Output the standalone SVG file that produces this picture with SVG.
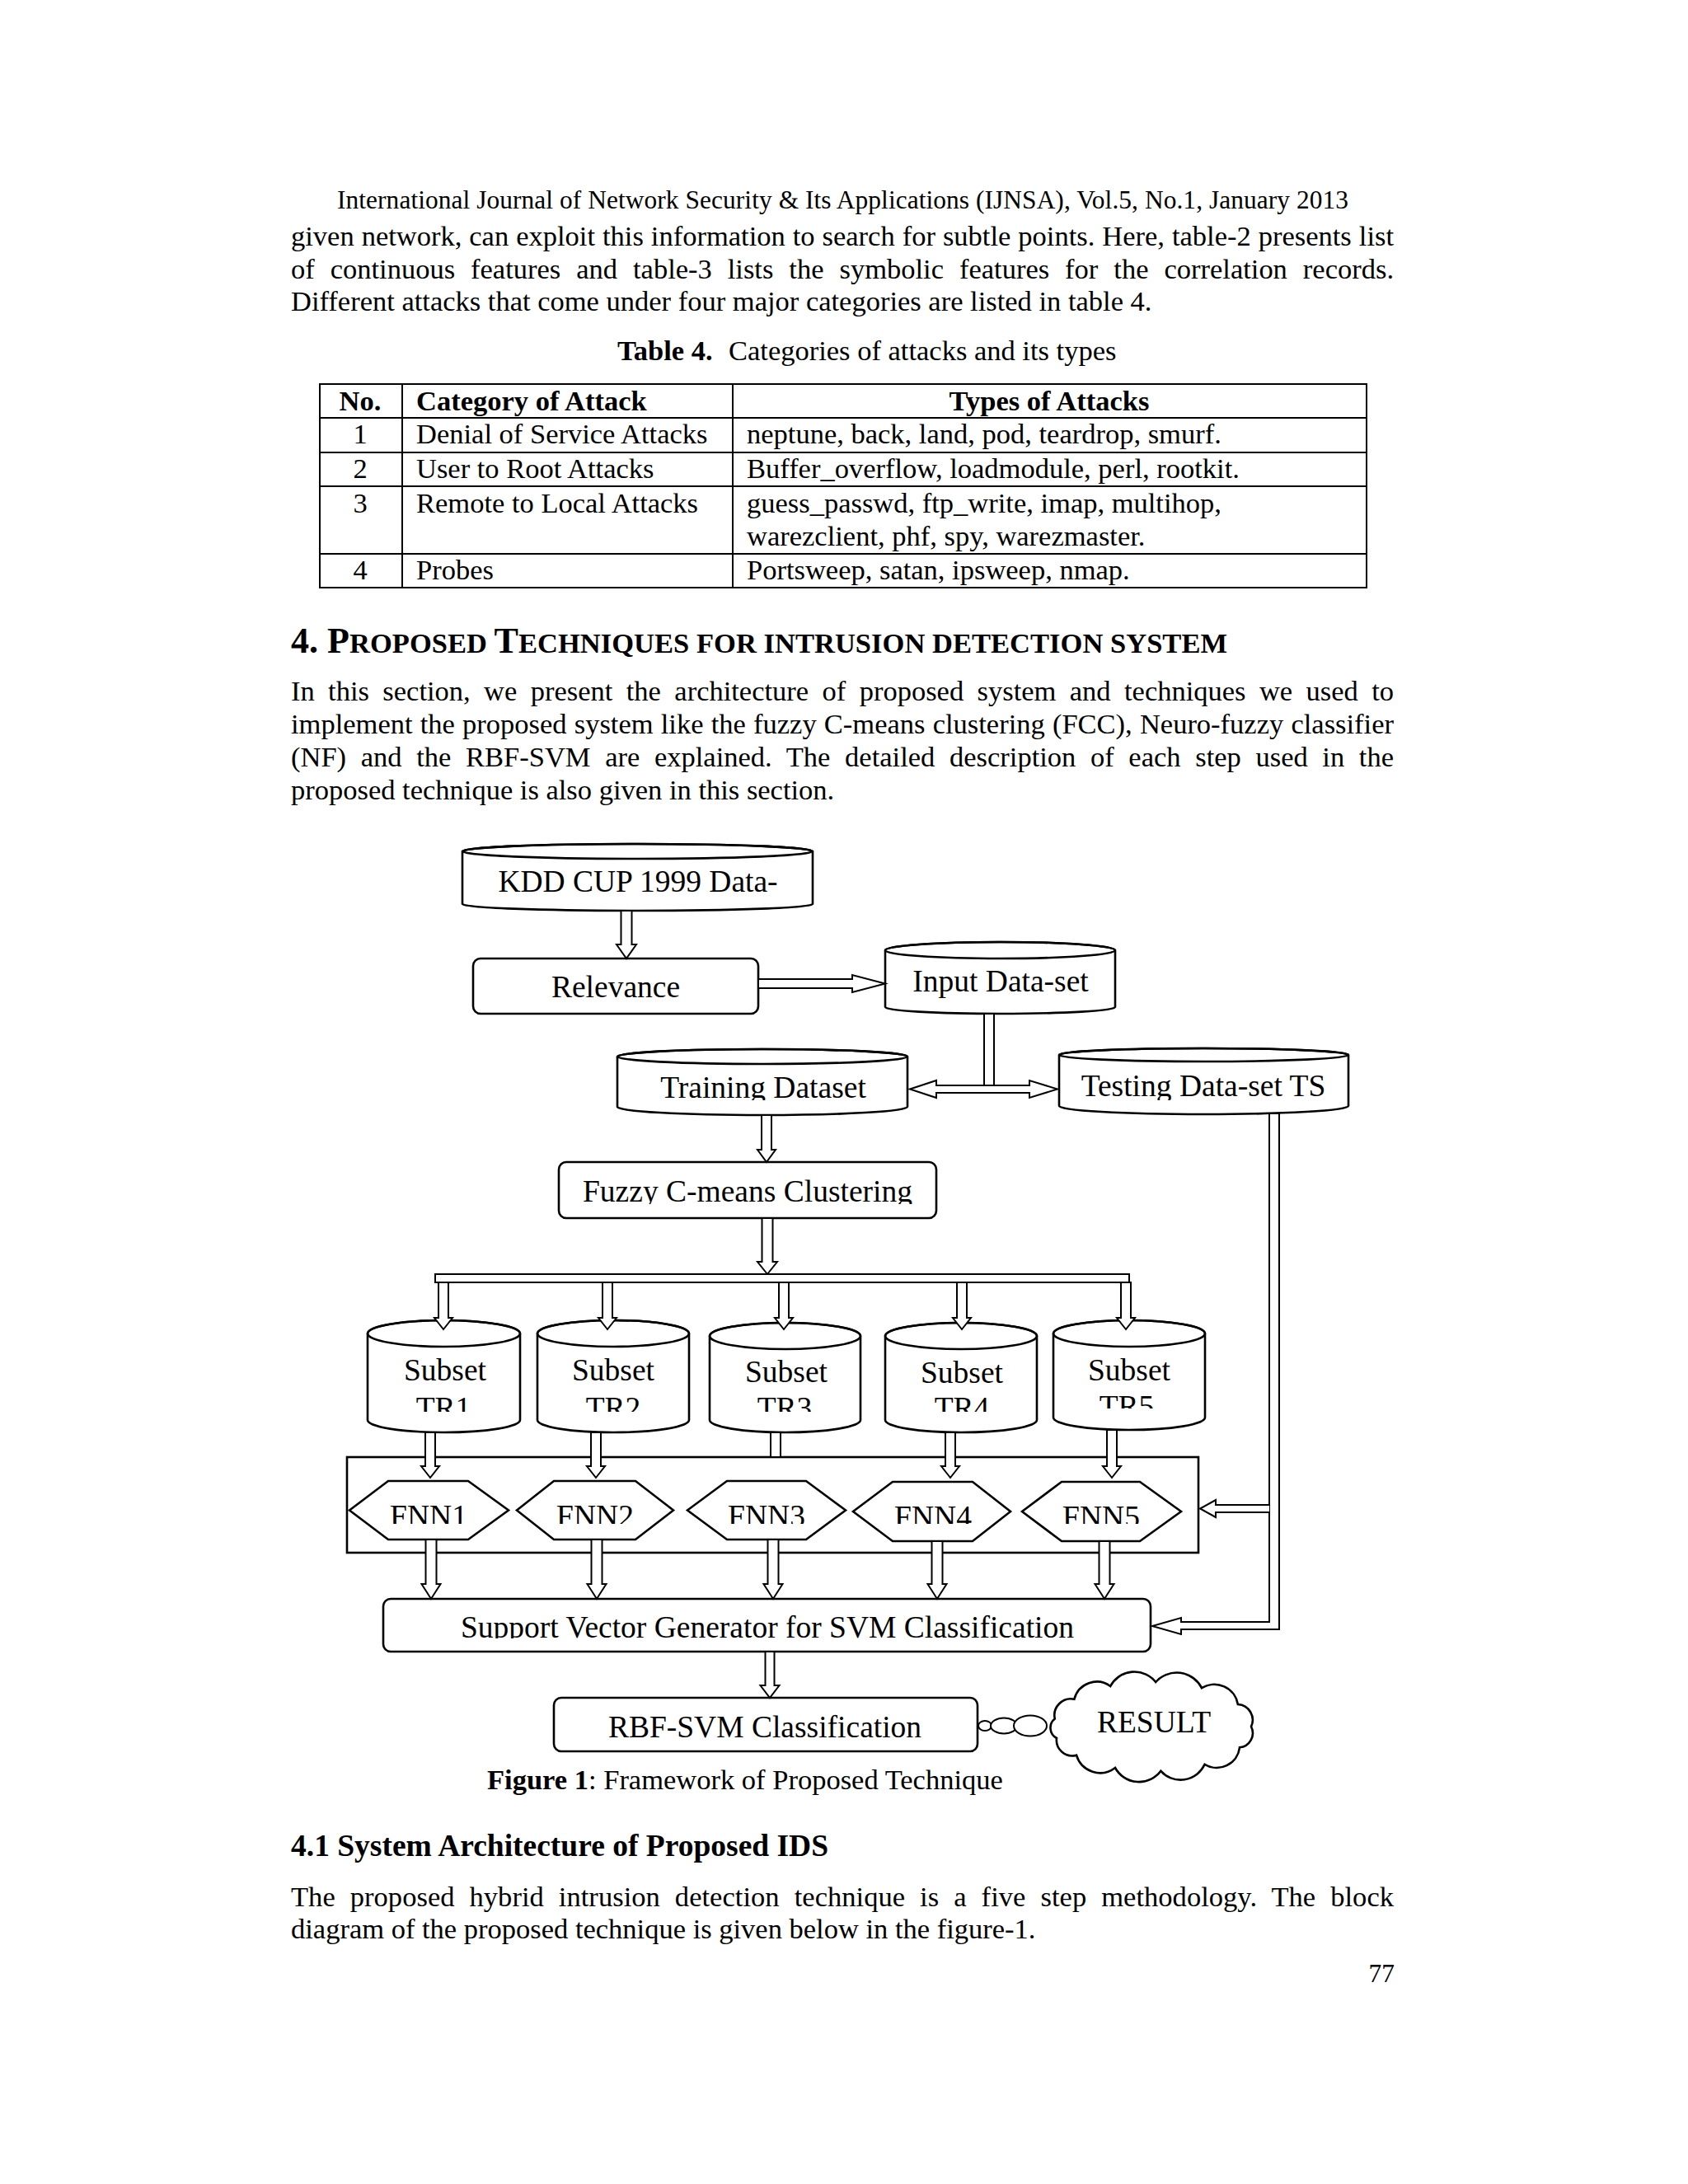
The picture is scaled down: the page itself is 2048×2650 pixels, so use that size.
<svg xmlns="http://www.w3.org/2000/svg" width="2048" height="2650" viewBox="0 0 2048 2650">
<style>
text{font-family:"Liberation Serif","Times New Roman",serif;fill:#000}
.t{font-size:34.5px}
.hd{font-size:31.4px}
.d{font-size:37.5px}
.bd{font-weight:bold}
.m{text-anchor:middle}
.tb{stroke:#000;stroke-width:2;fill:none}
.n{fill:#fff;stroke:#000;stroke-width:2.6}
.nl{fill:none;stroke:#000;stroke-width:2.6}
.a{fill:#fff;stroke:#000;stroke-width:2;stroke-linejoin:miter}
</style>
<defs>
<clipPath id="cTrain"><rect x="700" y="1280" width="1000" height="55"/></clipPath>
<clipPath id="cFcc"><rect x="680" y="1410" width="460" height="51"/></clipPath>
<clipPath id="cTR"><rect x="440" y="1680" width="1030" height="33"/></clipPath>
<clipPath id="cTR5"><rect x="1270" y="1680" width="200" height="29"/></clipPath>
<clipPath id="cFNN"><rect x="420" y="1800" width="1030" height="49"/></clipPath>
<clipPath id="cSVG"><rect x="470" y="1945" width="920" height="43"/></clipPath>
</defs>
<rect width="2048" height="2650" fill="#fff"/>

<!-- page text -->
<g id="page-text">
<text class="hd m" x="1022.5" y="253" textLength="1227" lengthAdjust="spacing">International Journal of Network Security &amp; Its Applications (IJNSA), Vol.5, No.1, January 2013</text>
<text class="t" x="353" y="298" word-spacing="0.36" textLength="1338" lengthAdjust="spacing">given network, can exploit this information to search for subtle points. Here, table-2 presents list</text>
<text class="t" x="353" y="338" word-spacing="10.35" textLength="1338" lengthAdjust="spacing">of continuous features and table-3 lists the symbolic features for the correlation records.</text>
<text class="t" x="353" y="377">Different attacks that come under four major categories are listed in table 4.</text>
<text class="t" x="749" y="437"><tspan class="bd">Table 4.</tspan><tspan x="884">Categories of attacks and its types</tspan></text>

<text class="bd" x="353" y="792" textLength="1136" lengthAdjust="spacing"><tspan font-size="44">4. P</tspan><tspan font-size="34.5">ROPOSED </tspan><tspan font-size="44">T</tspan><tspan font-size="34.5">ECHNIQUES FOR INTRUSION DETECTION SYSTEM</tspan></text>
<text class="t" x="353" y="850" word-spacing="7.76" textLength="1338" lengthAdjust="spacing">In this section, we present the architecture of proposed system and techniques we used to</text>
<text class="t" x="353" y="890" word-spacing="0.55" textLength="1338" lengthAdjust="spacing">implement the proposed system like the fuzzy C-means clustering (FCC), Neuro-fuzzy classifier</text>
<text class="t" x="353" y="930" word-spacing="9.0" textLength="1338" lengthAdjust="spacing">(NF) and the RBF-SVM are explained. The detailed description of each step used in the</text>
<text class="t" x="353" y="970">proposed technique is also given in this section.</text>

<text class="t" x="591" y="2171"><tspan class="bd">Figure 1</tspan>: Framework of Proposed Technique</text>
<text class="d bd" x="353" y="2252">4.1 System Architecture of Proposed IDS</text>
<text class="t" x="353" y="2313" word-spacing="9.37" textLength="1338" lengthAdjust="spacing">The proposed hybrid intrusion detection technique is a five step methodology. The block</text>
<text class="t" x="353" y="2352">diagram of the proposed technique is given below in the figure-1.</text>
<text class="hd" x="1692" y="2405" text-anchor="end">77</text>
</g>

<!-- table -->
<g id="table4">
<rect class="tb" x="388" y="466" width="1270" height="247"/>
<line class="tb" x1="388" y1="507" x2="1658" y2="507"/>
<line class="tb" x1="388" y1="549" x2="1658" y2="549"/>
<line class="tb" x1="388" y1="590" x2="1658" y2="590"/>
<line class="tb" x1="388" y1="672" x2="1658" y2="672"/>
<line class="tb" x1="488" y1="466" x2="488" y2="713"/>
<line class="tb" x1="889" y1="466" x2="889" y2="713"/>
<text class="t bd m" x="437" y="498">No.</text>
<text class="t bd" x="505" y="498">Category of Attack</text>
<text class="t bd m" x="1273" y="498">Types of Attacks</text>
<text class="t m" x="437" y="538">1</text>
<text class="t" x="505" y="538">Denial of Service Attacks</text>
<text class="t" x="906" y="538">neptune, back, land, pod, teardrop, smurf.</text>
<text class="t m" x="437" y="580">2</text>
<text class="t" x="505" y="580">User to Root Attacks</text>
<text class="t" x="906" y="580">Buffer_overflow, loadmodule, perl, rootkit.</text>
<text class="t m" x="437" y="622">3</text>
<text class="t" x="505" y="622">Remote to Local Attacks</text>
<text class="t" x="906" y="622">guess_passwd, ftp_write, imap, multihop,</text>
<text class="t" x="906" y="662">warezclient, phf, spy, warezmaster.</text>
<text class="t m" x="437" y="703">4</text>
<text class="t" x="505" y="703">Probes</text>
<text class="t" x="906" y="703">Portsweep, satan, ipsweep, nmap.</text>
</g>

<!-- diagram nodes -->
<g id="kdd">
<path class="n" d="M561,1033 A212.5,9 0 0 1 986,1033 V1097 A212.5,8 0 0 1 561,1097 Z"/>
<ellipse class="nl" cx="773.5" cy="1033" rx="212.5" ry="9"/>
<text class="d m" x="774" y="1082">KDD CUP 1999 Data-</text>
</g>
<g id="relevance">
<rect class="n" x="574" y="1163" width="346" height="67" rx="9"/>
<text class="d m" x="747" y="1210">Relevance</text>
</g>
<g id="input-dataset">
<path class="n" d="M1074,1153 A139.5,10 0 0 1 1353,1153 V1222 A139.5,8 0 0 1 1074,1222 Z"/>
<ellipse class="nl" cx="1213.5" cy="1153" rx="139.5" ry="10"/>
<text class="d m" x="1214" y="1203">Input Data-set</text>
</g>
<g id="training-dataset">
<path class="n" d="M749,1282 A176,9 0 0 1 1101,1282 V1343 A176,10 0 0 1 749,1343 Z"/>
<ellipse class="nl" cx="925" cy="1282" rx="176" ry="9"/>
<text class="d m" x="926" y="1332" clip-path="url(#cTrain)">Training Dataset</text>
</g>
<g id="testing-dataset">
<path class="n" d="M1285,1280 A175.5,8 0 0 1 1636,1280 V1342 A175.5,10 0 0 1 1285,1342 Z"/>
<ellipse class="nl" cx="1460.5" cy="1280" rx="175.5" ry="8"/>
<text class="d m" x="1460" y="1330" clip-path="url(#cTrain)">Testing Data-set TS</text>
</g>
<g id="fcc">
<rect class="n" x="678" y="1410" width="458" height="68" rx="9"/>
<text class="d m" x="907" y="1458" clip-path="url(#cFcc)">Fuzzy C-means Clustering</text>
</g>
<g id="subset1">
<path class="n" d="M446,1618 A92.5,16 0 0 1 631,1618 V1723 A92.5,15 0 0 1 446,1723 Z"/>
<ellipse class="nl" cx="538.5" cy="1618" rx="92.5" ry="16"/>
<text class="d m" x="540" y="1675">Subset</text>
<text class="d m" x="538" y="1721" clip-path="url(#cTR)">TR1</text>
</g>
<g id="subset2">
<path class="n" d="M652,1618 A92,16 0 0 1 836,1618 V1723 A92,15 0 0 1 652,1723 Z"/>
<ellipse class="nl" cx="744" cy="1618" rx="92" ry="16"/>
<text class="d m" x="744" y="1675">Subset</text>
<text class="d m" x="744" y="1721" clip-path="url(#cTR)">TR2</text>
</g>
<g id="subset3">
<path class="n" d="M861,1621 A91.5,16 0 0 1 1044,1621 V1723 A91.5,15 0 0 1 861,1723 Z"/>
<ellipse class="nl" cx="952.5" cy="1621" rx="91.5" ry="16"/>
<text class="d m" x="954" y="1677">Subset</text>
<text class="d m" x="952" y="1721" clip-path="url(#cTR)">TR3</text>
</g>
<g id="subset4">
<path class="n" d="M1074,1621 A92,16 0 0 1 1258,1621 V1723 A92,15 0 0 1 1074,1723 Z"/>
<ellipse class="nl" cx="1166" cy="1621" rx="92" ry="16"/>
<text class="d m" x="1167" y="1678">Subset</text>
<text class="d m" x="1167" y="1721" clip-path="url(#cTR)">TR4</text>
</g>
<g id="subset5">
<path class="n" d="M1278,1618 A92,16 0 0 1 1462,1618 V1720 A92,15 0 0 1 1278,1720 Z"/>
<ellipse class="nl" cx="1370" cy="1618" rx="92" ry="16"/>
<text class="d m" x="1370" y="1675">Subset</text>
<text class="d m" x="1367" y="1719" clip-path="url(#cTR5)">TR5</text>
</g>
<g id="fnn-group">
<rect class="n" x="421" y="1768" width="1033" height="116"/>
</g>
<g id="fnn1">
<polygon class="n" points="424,1832.5 471,1797 568,1797 617,1832.5 568,1868 471,1868"/>
<text class="d m" x="520" y="1852" clip-path="url(#cFNN)">FNN1</text>
</g>
<g id="fnn2">
<polygon class="n" points="627,1832.5 672,1797 771,1797 817,1832.5 771,1868 672,1868"/>
<text class="d m" x="722" y="1852" clip-path="url(#cFNN)">FNN2</text>
</g>
<g id="fnn3">
<polygon class="n" points="834,1832.5 882,1797 978,1797 1026,1832.5 978,1868 882,1868"/>
<text class="d m" x="930" y="1852" clip-path="url(#cFNN)">FNN3</text>
</g>
<g id="fnn4">
<polygon class="n" points="1035,1834 1083,1798 1180,1798 1226,1834 1180,1870 1083,1870"/>
<text class="d m" x="1132" y="1853" clip-path="url(#cFNN)">FNN4</text>
</g>
<g id="fnn5">
<polygon class="n" points="1240,1834 1288,1798 1383,1798 1433,1834 1383,1870 1288,1870"/>
<text class="d m" x="1336" y="1853" clip-path="url(#cFNN)">FNN5</text>
</g>
<g id="svg-generator">
<rect class="n" x="465" y="1940" width="931" height="64" rx="9"/>
<text class="d m" x="931" y="1987" clip-path="url(#cSVG)">Support Vector Generator for SVM Classification</text>
</g>
<g id="rbf-svm">
<rect class="n" x="672" y="2060" width="514" height="65" rx="9"/>
<text class="d m" x="928" y="2108">RBF-SVM Classification</text>
</g>
<g id="result">
<path class="n" d="M1518,2095 A17.5,17.5 0 0 1 1504,2120.3 A28,28 0 0 1 1461.6,2140.8 A32,32 0 0 1 1408.4,2148.8 A33,33 0 0 1 1353,2145 A30,30 0 0 1 1306,2129.7 A19,19 0 0 1 1282,2109 A14,14 0 0 1 1279.8,2085.6 A20,20 0 0 1 1303.4,2061.7 A28,28 0 0 1 1347.2,2046 A33,33 0 0 1 1402.2,2041 A34,34 0 0 1 1458,2048.2 A29,29 0 0 1 1501.9,2068 A19,19 0 0 1 1518,2095 Z"/>
<text class="d m" x="1400" y="2102">RESULT</text>
</g>

<!-- connectors -->
<g id="connectors">
<polygon class="a" points="753.5,1105 766.5,1105 766.5,1146 772,1146 760,1163 748,1146 753.5,1146"/>
<polygon class="a" points="920,1188 1034,1188 1034,1183 1074,1193.5 1034,1204 1034,1199 920,1199"/>
<rect class="a" x="1194" y="1230" width="12" height="87"/>
<polygon class="a" points="1104,1321.5 1136,1311 1136,1317 1249,1317 1249,1311 1283,1321.5 1249,1332 1249,1326 1136,1326 1136,1332"/>
<polygon class="a" points="924,1353 936,1353 936,1395 941,1395 930,1410 919,1395 924,1395"/>
<polygon class="a" points="924.5,1478 937.5,1478 937.5,1531 943,1531 931,1546 919,1531 924.5,1531"/>
<rect class="a" x="528" y="1546" width="842" height="10"/>
<polygon class="a" points="532,1556 544,1556 544,1599 549,1599 538,1613 527,1599 532,1599"/>
<polygon class="a" points="731,1556 743,1556 743,1599 748,1599 737,1613 726,1599 731,1599"/>
<polygon class="a" points="945,1556 957,1556 957,1599 962,1599 951,1613 940,1599 945,1599"/>
<polygon class="a" points="1161,1556 1173,1556 1173,1599 1178,1599 1167,1613 1156,1599 1161,1599"/>
<polygon class="a" points="1360,1556 1372,1556 1372,1599 1377,1599 1366,1613 1355,1599 1360,1599"/>
<polygon class="a" points="516,1738 528,1738 528,1779 533,1779 522,1793 511,1779 516,1779"/>
<polygon class="a" points="717,1738 729,1738 729,1779 734,1779 723,1793 712,1779 717,1779"/>
<rect class="a" x="935" y="1738" width="12" height="30"/>
<polygon class="a" points="1147,1738 1159,1738 1159,1779 1164,1779 1153,1793 1142,1779 1147,1779"/>
<polygon class="a" points="1343,1735 1355,1735 1355,1779 1360,1779 1349,1793 1338,1779 1343,1779"/>
<polygon class="a" points="516.5,1868 529.5,1868 529.5,1922 534.5,1922 523,1940 511.5,1922 516.5,1922"/>
<polygon class="a" points="717.5,1868 730.5,1868 730.5,1922 735.5,1922 724,1940 712.5,1922 717.5,1922"/>
<polygon class="a" points="931.5,1868 944.5,1868 944.5,1922 949.5,1922 938,1940 926.5,1922 931.5,1922"/>
<polygon class="a" points="1130.5,1870 1143.5,1870 1143.5,1922 1148.5,1922 1137,1940 1125.5,1922 1130.5,1922"/>
<polygon class="a" points="1333.5,1870 1346.5,1870 1346.5,1922 1351.5,1922 1340,1940 1328.5,1922 1333.5,1922"/>
<polygon class="a" points="1540,1351 1552,1351 1552,1977 1433,1977 1433,1983 1398,1973 1433,1963 1433,1968 1540,1968"/>
<path class="a" d="M1540,1826 H1475 V1820 L1456,1830.5 L1475,1841 V1835 H1540"/>
<polygon class="a" points="928.5,2004 939.5,2004 939.5,2045 945.5,2045 934,2060 922.5,2045 928.5,2045"/>
<ellipse class="a" cx="1195" cy="2094" rx="8" ry="6"/>
<ellipse class="a" cx="1218" cy="2094" rx="16" ry="9.5"/>
<ellipse class="a" cx="1250" cy="2094" rx="20" ry="12.5"/>
</g>
</svg>
